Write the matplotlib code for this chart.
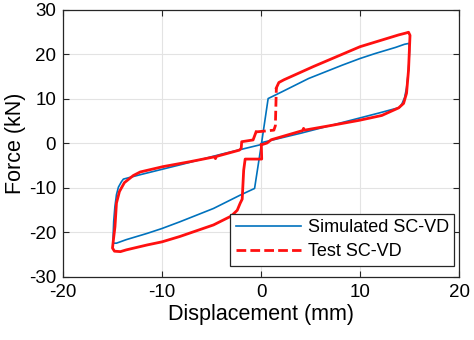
import numpy as np
import matplotlib
matplotlib.use("Agg")
import matplotlib.pyplot as plt
from matplotlib.lines import Line2D

plt.rcParams['font.family'] = ['Liberation Sans', 'DejaVu Sans']
plt.rcParams['axes.unicode_minus'] = False

# simulated SC-VD hysteresis loop (mm, kN)
sim_x = [0.05, 0.72, 2.1, 4.8, 8.2, 10.0, 11.5, 13.6, 14.5, 14.95,
         15.0, 14.95, 14.85, 14.7, 14.5, 14.25, 14.0,
         12.0, 8.0, 4.0, 0.25, -0.1,
         -4.0, -8.0, -12.0, -13.9,
         -14.1, -14.4, -14.6, -14.76, -14.88, -14.93, -14.95,
         -14.6, -13.6, -11.5, -10.0, -8.2, -4.8, -2.1, -0.65, 0.05]
sim_y = [0.0, 10.1, 11.6, 14.6, 17.6, 19.1, 20.2, 21.6, 22.3, 22.5,
         21.0, 18.5, 15.5, 12.5, 10.3, 9.0, 8.1,
         6.9, 4.6, 2.3, 0.3, -0.3,
         -2.4, -4.7, -6.9, -8.0,
         -8.6, -9.8, -11.5, -14.25, -17.5, -20.5, -22.4,
         -22.4, -21.6, -20.2, -19.1, -17.6, -14.6, -11.6, -10.1, 0.0]

# measured SC-VD loop
test_x = [0.03, 0.07, -1.6, -1.75, -1.9, -2.1, -2.4, -3.0, -4.8, -8.2,
          -10.0, -11.5, -13.6, -14.2, -14.8, -15.0, -14.9, -14.75, -14.6, -14.3,
          -13.8, -12.9, -12.2, -9.9, -7.2, -4.7, -4.6, -4.5, -2.2, -2.0,
          -1.95, -0.8, -0.5, 1.3, 1.45, 1.55, 1.8, 2.3, 5.3, 10.0,
          13.9, 14.6, 14.9, 15.05, 14.9, 14.7, 14.4, 13.9, 12.2, 9.9,
          7.2, 4.4, 4.3, 4.2, 2.2, 1.04, 0.6, 0.03]
test_y = [-0.3, -3.5, -3.5, -6.0, -12.5, -13.4, -15.0, -16.3, -18.3, -20.9,
          -22.1, -22.8, -23.9, -24.3, -24.2, -23.5, -21.5, -18.7, -13.4, -10.8,
          -8.8, -7.2, -6.4, -5.2, -4.1, -3.0, -3.4, -2.9, -1.5, -1.1,
          0.4, 0.8, 2.6, 3.0, 4.0, 12.5, 13.7, 14.3, 17.3, 21.75,
          24.4, 24.8, 25.0, 24.3, 16.5, 11.3, 9.0, 8.0, 6.3, 5.2,
          4.1, 3.0, 3.4, 2.9, 1.6, 0.85, 0.1, -0.3]

xticks = [-20, -10, 0, 10, 20]
yticks = [-30, -20, -10, 0, 10, 20, 30]

fig = plt.figure(figsize=(4.74, 3.40), dpi=100)
ax = fig.add_axes([0.1329, 0.1853, 0.8355, 0.7853])

ax.plot(sim_x, sim_y, color='#0072BD', lw=1.2, zorder=3)

# the jump segments near zero show as dashes, the rest looks solid
j0, j1 = 32, 35
tx = np.array(test_x)
ty = np.array(test_y)
ax.plot(tx[:j0 + 1], ty[:j0 + 1], color='#FF1010', lw=2.0, zorder=4,
        solid_joinstyle='round')
ax.plot(tx[j0:j1 + 1], ty[j0:j1 + 1], color='#FF1010', lw=2.0, zorder=4,
        linestyle=(0, (3.5, 1.5)))
ax.plot(tx[j1:], ty[j1:], color='#FF1010', lw=2.0, zorder=4,
        solid_joinstyle='round')

ax.set_xlim(-20, 20)
ax.set_ylim(-30, 30)
ax.set_xticks(xticks)
ax.set_yticks(yticks)
ax.grid(True, color='#e3e3e3', lw=0.8)
ax.set_axisbelow(True)
ax.tick_params(direction='in', top=True, right=True, labelsize=13.5,
               length=4, width=0.8, color='#262626', pad=5)
for s in ax.spines.values():
    s.set_color('#262626')
    s.set_linewidth(0.9)

ax.set_xlabel('Displacement (mm)', fontsize=15.5, labelpad=2)
ax.set_ylabel('Force (kN)', fontsize=15.5, labelpad=2)

handles = [Line2D([], [], color='#0072BD', lw=1.2),
           Line2D([], [], color='#FF1010', lw=2.0, linestyle=(0, (3.5, 1.5)))]
leg = ax.legend(handles, ['Simulated SC-VD', 'Test SC-VD'],
                loc='lower right', bbox_to_anchor=(0.988, 0.042),
                borderaxespad=0, fontsize=13, handlelength=3.6,
                handletextpad=0.4, labelspacing=0.4, borderpad=0.3,
                fancybox=False, framealpha=1, edgecolor='#262626')
leg.get_frame().set_linewidth(0.9)

fig.savefig('out.png', dpi=100)
